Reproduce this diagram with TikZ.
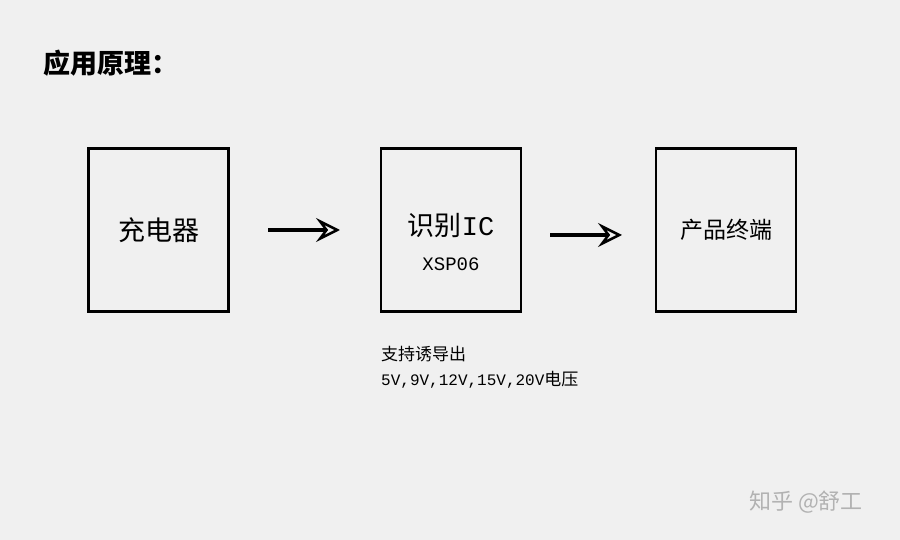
\documentclass[tikz,border=0pt]{standalone}
\usepackage{fontspec}
\setmainfont{Noto Sans CJK SC}
\newfontfamily\latn{Liberation Mono}
\usetikzlibrary{arrows.meta}
\definecolor{bg}{HTML}{F0F0F0}
\begin{document}
\begin{tikzpicture}[x=1pt,y=-1pt,
  blk/.style={draw,line width=2.2pt,minimum width=140pt,minimum height=163pt,inner sep=0pt,align=center},
  flow/.style={line width=3.5pt,-{Stealth[open,length=24pt,width=24pt,inset=9pt,line width=2.5pt,fill=bg]}}]
\fill[bg] (0,0) rectangle (900,540);
\useasboundingbox (0,0) rectangle (900,540);
\node[anchor=west,font=\fontsize{27}{30}\selectfont\bfseries] (title) at (40,63) {应用原理：};
\node[blk,font=\fontsize{27}{30}\selectfont] (a) at (158.5,230) {充电器};
\node[blk] (b) at (451,230) {};
\node[font=\fontsize{27}{30}\selectfont] (bt) at (451,226) {识别{\latn IC}};
\node[font=\fontsize{19}{22}\selectfont\latn] (bs) at (451,264) {XSP06};
\node[blk,font=\fontsize{23}{28}\selectfont] (c) at (726,230) {产品终端};
\coordinate (a1) at (268,230); \coordinate (a2) at (340,230);
\coordinate (b1) at (550,235); \coordinate (b2) at (622,235);
\draw[flow] (a1) -- (a2);
\draw[flow] (b1) -- (b2);
\node[anchor=north west,align=left,inner sep=0pt,font=\fontsize{17}{25}\selectfont] (note) at (381,346) {支持诱导出\\{\latn\fontsize{16}{25}\selectfont 5V,9V,12V,15V,20V}电压};
\node[anchor=center,text=gray!60,font=\fontsize{22}{26}\selectfont] (wm) at (806,502) {知乎 @舒工};
\end{tikzpicture}
\end{document}
